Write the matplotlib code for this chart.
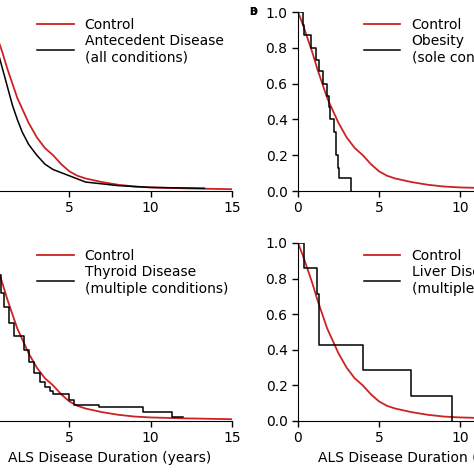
import matplotlib
matplotlib.use("Agg")
import matplotlib.pyplot as plt

# control survival curve
ctrl_t = [0, 0.3, 0.6, 0.9, 1.2, 1.5, 1.8, 2.1, 2.5, 3.0, 3.5, 4.0, 4.5, 5.0, 5.5, 6.0, 7.0, 8.0, 9.0, 10.0, 12.0, 15.0]
ctrl_s = [1.0, 0.93, 0.85, 0.77, 0.68, 0.6, 0.52, 0.46, 0.38, 0.3, 0.24, 0.2, 0.15, 0.11, 0.085, 0.07, 0.05, 0.035, 0.025, 0.02, 0.015, 0.01]

# A: antecedent disease
ante_t = [0, 0.3, 0.6, 0.9, 1.2, 1.5, 1.8, 2.1, 2.5, 3.0, 3.5, 4.0, 5.0, 6.0, 7.0, 8.0, 10.0, 13.3]
ante_s = [1.0, 0.9, 0.78, 0.68, 0.58, 0.48, 0.4, 0.33, 0.26, 0.2, 0.15, 0.12, 0.085, 0.05, 0.04, 0.03, 0.02, 0.015]

# B: obesity
obes_t = [0, 0.3, 0.4, 0.8, 1.1, 1.3, 1.55, 1.8, 1.9, 2.0, 2.2, 2.35, 2.45, 2.55, 3.3]
obes_s = [1.0, 0.93, 0.87, 0.8, 0.73, 0.67, 0.6, 0.53, 0.47, 0.4, 0.33, 0.2, 0.13, 0.07, 0.0]

# C: thyroid disease
thyr_t = [0, 0.3, 0.5, 0.8, 1.0, 1.3, 1.6, 2.2, 2.5, 2.8, 3.2, 3.5, 3.8, 4.0, 5.0, 5.3, 6.8, 9.5, 11.3, 12.0]
thyr_s = [1.0, 0.9, 0.82, 0.72, 0.64, 0.55, 0.48, 0.4, 0.33, 0.27, 0.22, 0.19, 0.17, 0.15, 0.12, 0.09, 0.08, 0.05, 0.02, 0.02]

# D: liver disease
liv_t = [0, 0.4, 1.2, 1.3, 4.0, 7.0, 9.5]
liv_s = [1.0, 0.857, 0.714, 0.429, 0.286, 0.143, 0.0]

W = 474.0
fig = plt.figure(figsize=(4.74, 4.74), dpi=100)
plt.rcParams['font.family'] = ['DejaVu Sans']

def make_ax(x0, x1, ytop, ybot):
    return fig.add_axes([x0 / W, 1 - ybot / W, (x1 - x0) / W, (ybot - ytop) / W])

panels = [
    (make_ax(-12, 232, 12, 191), ante_t, ante_s, "Antecedent Disease\n(all conditions)", None, 0.21, False, "default"),
    (make_ax(298, 541, 12, 191), obes_t, obes_s, "Obesity\n(sole condition)", "B", 0.28, False, "steps-post"),
    (make_ax(-12, 232, 243, 421), thyr_t, thyr_s, "Thyroid Disease\n(multiple conditions)", None, 0.21, True, "steps-post"),
    (make_ax(298, 541, 243, 421), liv_t, liv_s, "Liver Disease\n(multiple conditions)", "D", 0.28, True, "steps-post"),
]

for ax, t, s, lab, letter, lx, bottom, ds in panels:
    ax.plot(ctrl_t, ctrl_s, color="#cc2222", lw=1.3, label="Control")
    ax.plot(t, s, color="black", lw=1.1, drawstyle=ds, label=lab)
    ax.set_xlim(0, 15)
    ax.set_ylim(0, 1)
    ax.set_xticks([0, 5, 10, 15])
    ax.set_yticks([0, 0.2, 0.4, 0.6, 0.8, 1.0])
    if letter:
        ax.set_yticklabels(["0.0", "0.2", "0.4", "0.6", "0.8", "1.0"])
    else:
        ax.set_yticklabels([])
        ax.set_xticks([5, 10, 15])
    ax.tick_params(labelsize=10, length=4, width=1)
    for sp in ["top", "right"]:
        ax.spines[sp].set_visible(False)
    ax.legend(loc="upper left", bbox_to_anchor=(lx - 0.03, 1.0), frameon=False,
              fontsize=10, handlelength=2.6, labelspacing=0.2, borderaxespad=0)
    if bottom:
        ax.set_xlabel("ALS Disease Duration (years)", fontsize=10)
    if letter:
        fig.text(249 / W, 1 - 12 / W, letter, fontsize=7, fontweight="bold", va="center")

fig.savefig("out.png", dpi=100)
